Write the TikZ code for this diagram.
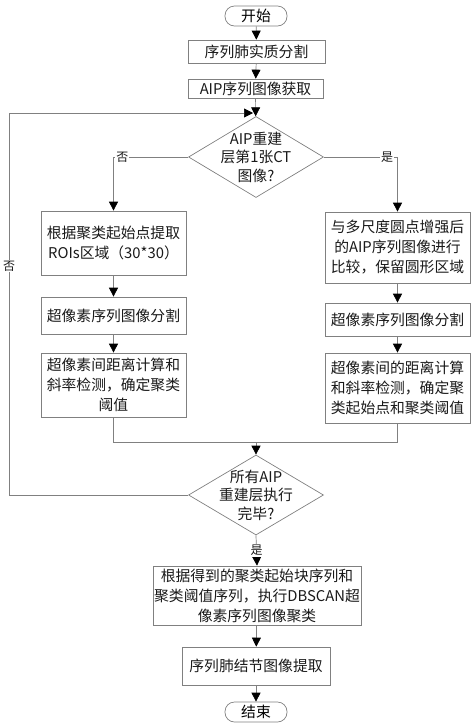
\documentclass[tikz,border=0pt]{standalone}
\usepackage{fontspec}
\setmainfont{Noto Sans CJK SC}
\usetikzlibrary{shapes.geometric,arrows.meta,positioning}

\begin{document}
\begin{tikzpicture}[x=1pt, y=-1pt,
    font=\fontsize{14.8}{20}\selectfont,
    box/.style={draw=black!50, line width=0.7pt, align=center, inner sep=1pt, text=black!90, minimum width=145pt},
    decision/.style={draw=black!50, line width=0.7pt, diamond, inner sep=0pt, minimum width=135pt, minimum height=81pt},
    term/.style={draw=black!50, line width=0.7pt, rounded corners=9.5pt, minimum width=62pt, minimum height=20pt, inner sep=0pt},
    line/.style={draw=black!50, line width=0.7pt},
    flow/.style={line, -{Triangle[length=9pt, width=9pt, color=black]}},
    lbl/.style={fill=white, inner sep=1pt, text=black!90, font=\fontsize{12}{13}\selectfont}]
    \useasboundingbox (0,0) rectangle (474,726);

    % main column
    \node[term] (start) at (256,16) {开始};
    \node[box, minimum width=137pt, minimum height=23pt] (lung) at (256.5,51.5) {序列肺实质分割};
    \node[box, minimum width=135pt, minimum height=19pt] (aip) at (255.5,88.5) {AIP序列图像获取};
    \node[decision, label={[align=center, text=black!90, font=\fontsize{14.8}{18.5}\selectfont]center:AIP重建\\层第1张CT\\图像?}] (first) at (256,157) {};

    % left branch
    \node[box, minimum height=64pt] (roi) at (113.5,243) {根据聚类起始点提取\\ROIs区域（30*30）};
    \node[box, minimum height=37pt] (segl) at (113.5,315.5) {超像素序列图像分割};
    \node[box, minimum height=64pt] (distl) at (113.5,385) {超像素间距离计算和\\斜率检测，确定聚类\\阈值};

    % right branch
    \node[box, minimum height=71pt] (cmp) at (397.5,247.5) {与多尺度圆点增强后\\的AIP序列图像进行\\比较，保留圆形区域};
    \node[box, minimum height=33pt] (segr) at (397.5,319.5) {超像素序列图像分割};
    \node[box, minimum height=70pt] (distr) at (397.5,388) {超像素间的距离计算\\和斜率检测，确定聚\\类起始点和聚类阈值};

    \coordinate (merge) at (256,442);
    \node[decision, minimum height=80pt, label={[align=center, text=black!90, font=\fontsize{14.8}{18.5}\selectfont]center:所有AIP\\重建层执行\\完毕?}] (done) at (256,495) {};
    \coordinate (loopleft) at (9,113);
    \coordinate (loopin) at (253,113);

    % bottom
    \node[box, minimum width=208pt, minimum height=59pt] (dbscan) at (257,595.5) {根据得到的聚类起始块序列和\\聚类阈值序列，执行DBSCAN超\\像素序列图像聚类};
    \node[box, minimum width=148pt, minimum height=38pt] (nodule) at (256,666) {序列肺结节图像提取};
    \node[term] (stop) at (256,712) {结束};

    \draw[flow] (start) -- (lung);
    \draw[flow] (lung) -- (aip);
    \draw[flow] (aip) -- (first);
    \draw[flow] (first.west) -| node[lbl, pos=0.44] {否} (roi.north);
    \draw[flow] (first.east) -| node[lbl, pos=0.43] {是} (cmp.north);
    \draw[flow] (roi) -- (segl);
    \draw[flow] (segl) -- (distl);
    \draw[flow] (cmp) -- (segr);
    \draw[flow] (segr) -- (distr);
    \draw[line] (distl.south) |- (merge);
    \draw[line] (distr.south) |- (merge);
    \draw[flow] (merge) -- (done.north);
    \draw[flow] (done.west) -| node[lbl, pos=0.8] {否} (loopleft) -- (loopin);
    \draw[flow] (done.south) -- node[lbl] {是} (dbscan.north);
    \draw[flow] (dbscan) -- (nodule);
    \draw[flow] (nodule) -- (stop);
\end{tikzpicture}
\end{document}
